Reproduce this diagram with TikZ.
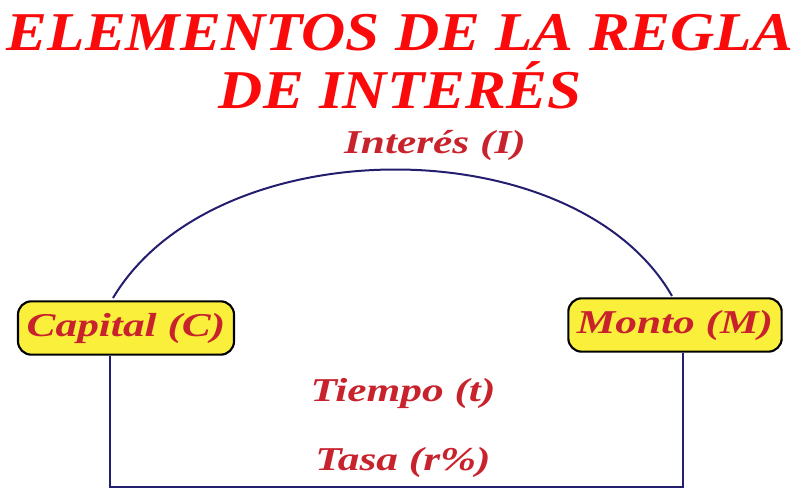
\documentclass[tikz,border=0pt]{standalone}
\usepackage{fontspec}
\setmainfont{Liberation Serif}
\newfontfamily\widett[FakeStretch=1.12]{Liberation Serif}
\newfontfamily\widelb[FakeStretch=1.3]{Liberation Serif}
\definecolor{tred}{RGB}{250,10,10}
\definecolor{lred}{RGB}{200,35,45}
\definecolor{lblue}{RGB}{35,30,110}
\definecolor{byel}{RGB}{250,240,60}
\tikzset{
  lbl/.style={text=lred,font=\widelb\bfseries\itshape\fontsize{25}{28}\selectfont},
  box/.style={lbl,draw=black,line width=1.6pt,fill=byel,rounded corners=10pt,minimum height=40pt,inner xsep=2pt},
  ln/.style={draw=lblue,line width=1.5pt},
  ttl/.style={text=tred,font=\widett\bfseries\itshape\fontsize{41}{44}\selectfont}
}
\begin{document}
\begin{tikzpicture}[x=0.75pt,y=-0.75pt]
\useasboundingbox (0,0) rectangle (800,503);
\node[ttl] (t1) at (400,33) {ELEMENTOS DE LA REGLA};
\node[ttl] (t2) at (400,85) {DE INTERÉS};
\node[box,minimum width=162pt] (cap) at (126,328) {Capital (C)};
\node[box,minimum width=160pt] (mon) at (675,325) {Monto (M)};
\node[lbl] (int) at (435,145) {Interés (I)};
\node[lbl] (tie) at (403,393) {Tiempo (t)};
\node[lbl] (tas) at (403,462) {Tasa (r\%)};
\coordinate (a1) at (113,298);
\coordinate (a2) at (672,296);
\coordinate (b1) at (110,487);
\coordinate (b2) at (683,487);
\draw[ln] (a1) .. controls (215,127) and (575,127) .. (a2);
\draw[ln] (cap.south -| b1) -- (b1) -- (b2) -- (mon.south -| b2);
\end{tikzpicture}
\end{document}
